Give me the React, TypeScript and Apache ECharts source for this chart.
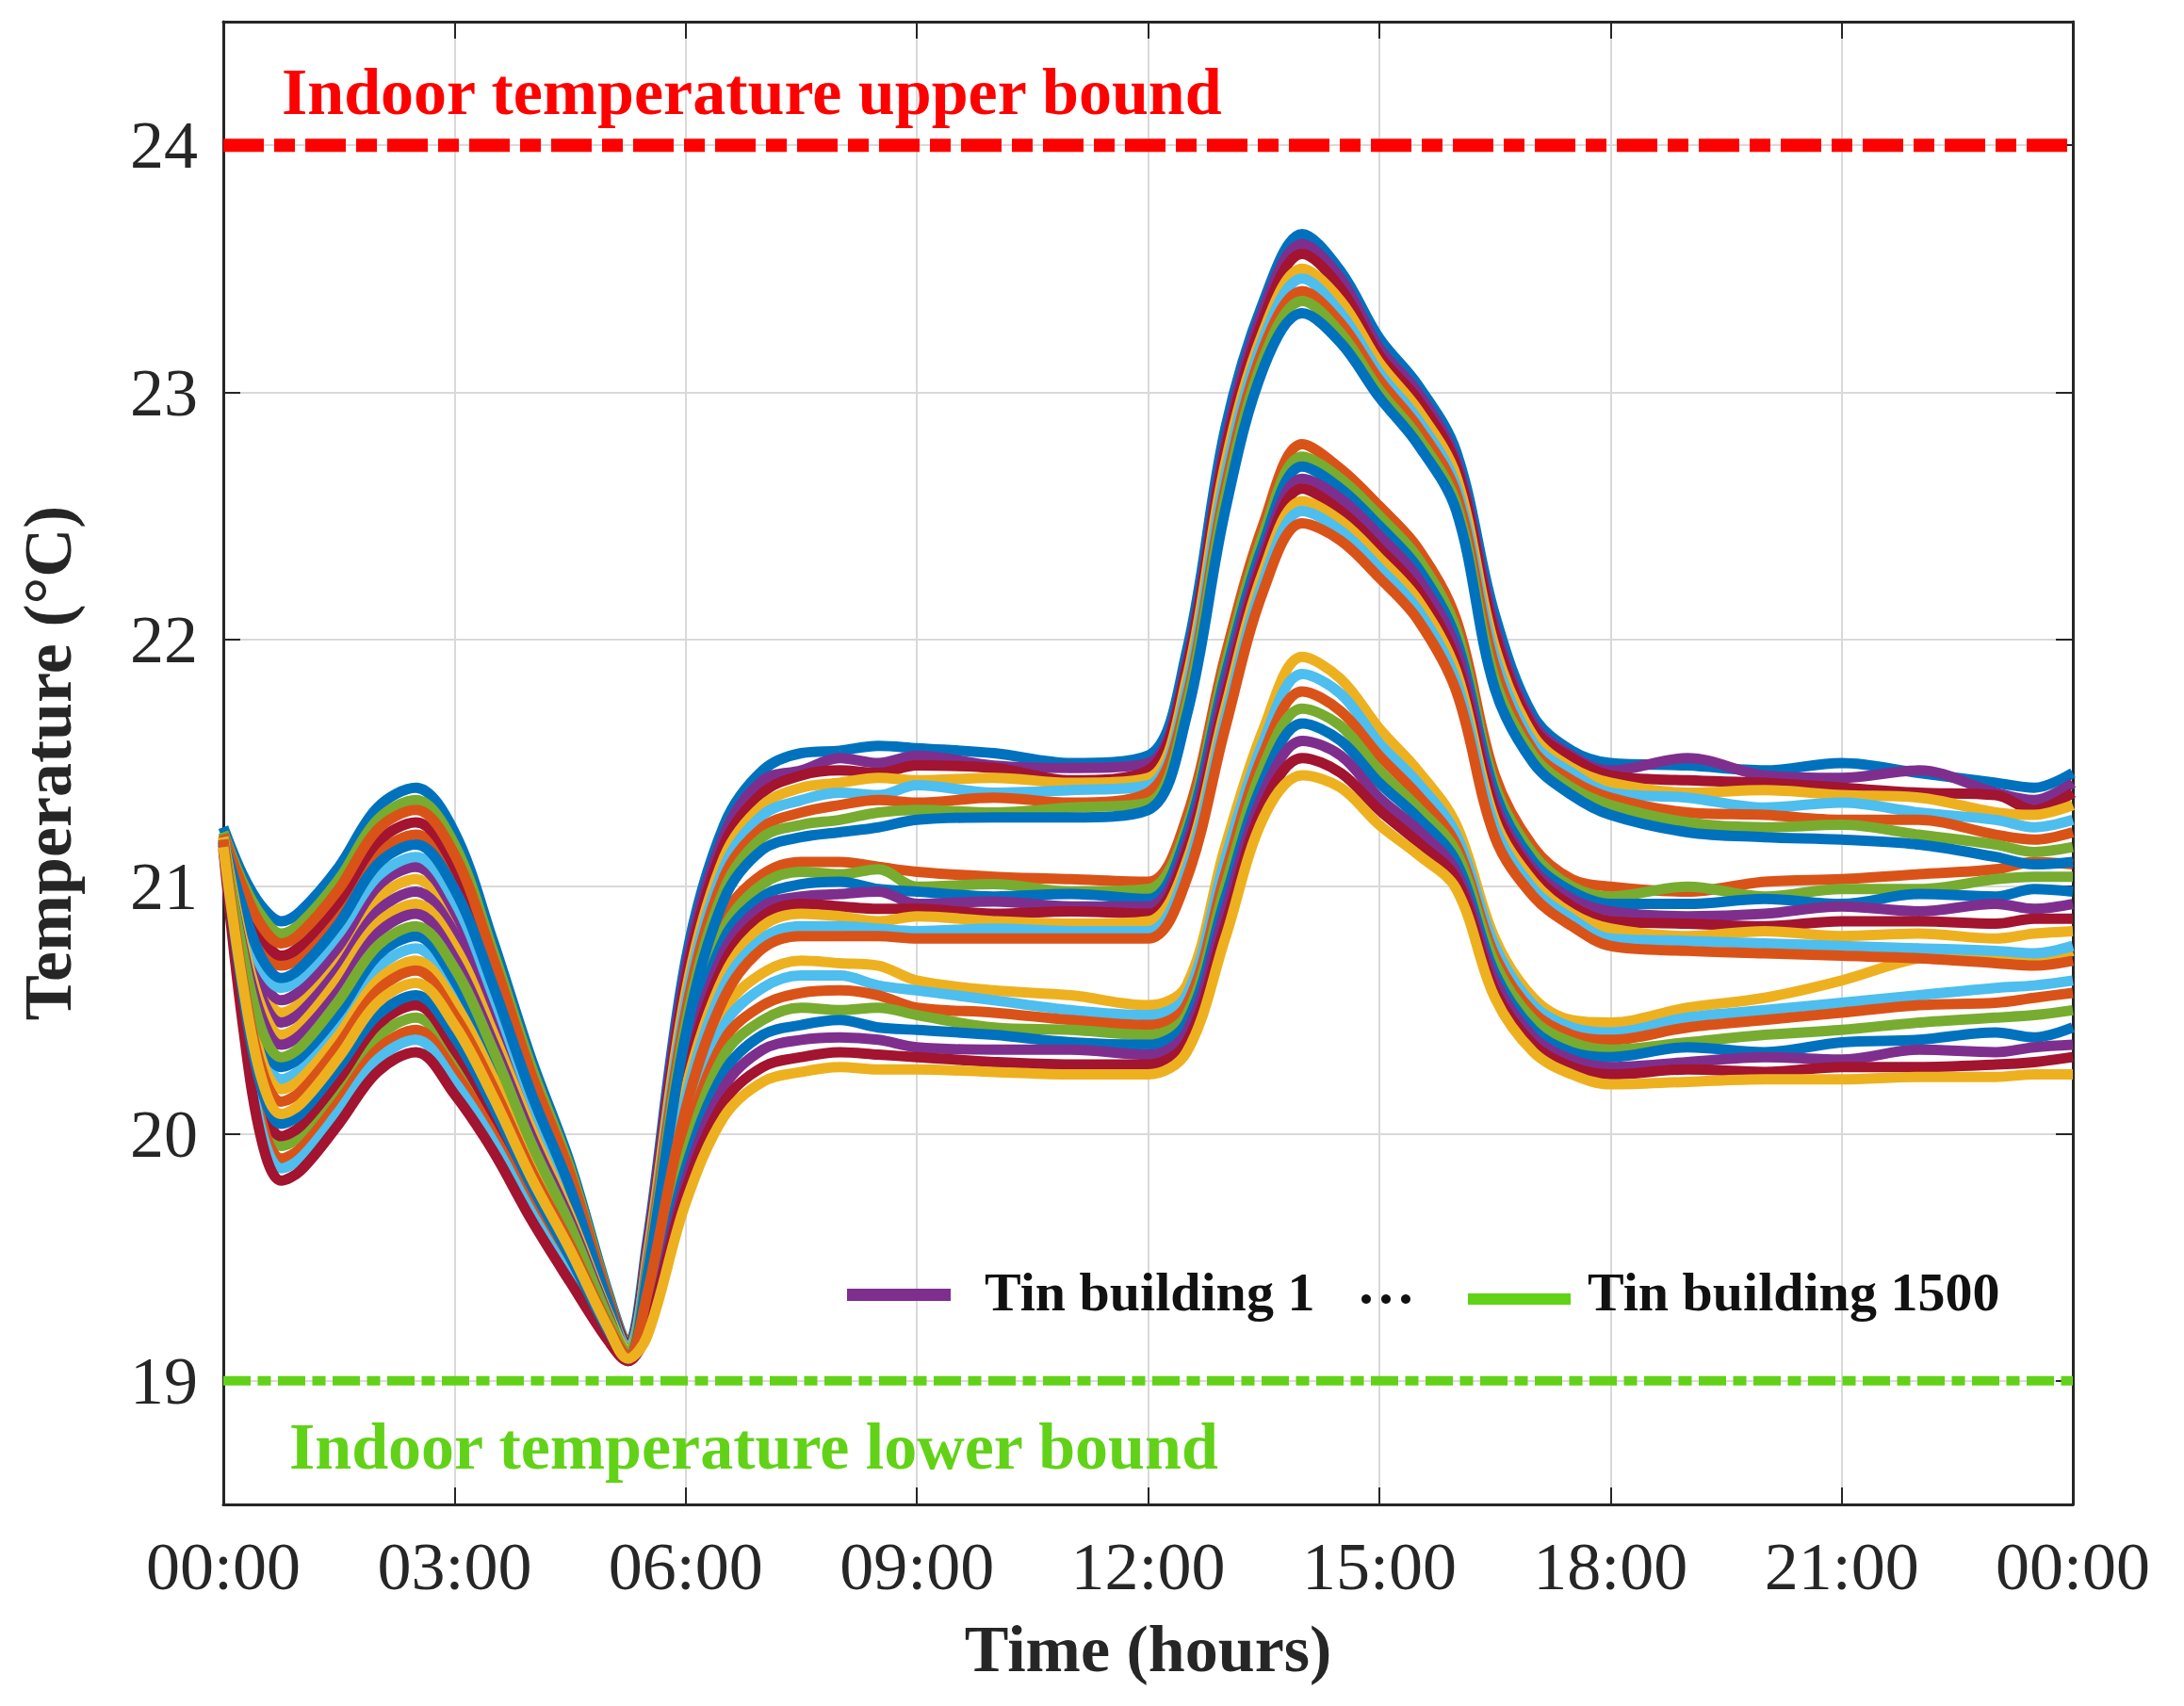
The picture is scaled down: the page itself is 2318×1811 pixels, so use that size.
import React, { useEffect, useRef } from 'react';
import * as echarts from 'echarts';

const HOURS = [0, 0.25, 0.5, 0.75, 1, 1.5, 2, 2.5, 3, 3.5, 4, 4.5, 5, 5.25, 5.5, 6, 6.5, 7, 7.5, 8, 8.5, 9, 10, 11, 12, 12.5, 13, 13.5, 14, 14.5, 15, 15.5, 16, 16.5, 17, 17.5, 18, 19, 20, 21, 22, 23, 23.5, 24];

const X_TICKS = [0, 3, 6, 9, 12, 15, 18, 21, 24];
const X_LABELS = ['00:00', '03:00', '06:00', '09:00', '12:00', '15:00', '18:00', '21:00', '00:00'];
const Y_TICKS = [19, 20, 21, 22, 23, 24];
const UPPER_BOUND = 24;
const LOWER_BOUND = 19;

const BAND_HIGH = [
  [21.24, 21.05, 20.92, 20.86, 20.90, 21.08, 21.32, 21.40, 21.22, 20.78, 20.30, 19.88, 19.35, 19.15, 19.56, 20.70, 21.25, 21.47, 21.54, 21.55, 21.57, 21.56, 21.54, 21.50, 21.53, 21.95, 22.85, 23.37, 23.64, 23.49, 23.22, 23.03, 22.76, 22.10, 21.69, 21.55, 21.50, 21.49, 21.47, 21.50, 21.46, 21.42, 21.40, 21.46],
  [21.18, 20.82, 20.55, 20.45, 20.49, 20.67, 20.90, 20.98, 20.81, 20.45, 20.05, 19.69, 19.28, 19.12, 19.54, 20.66, 21.21, 21.43, 21.47, 21.52, 21.50, 21.53, 21.49, 21.48, 21.50, 21.90, 22.79, 23.34, 23.60, 23.46, 23.18, 23.00, 22.72, 22.05, 21.66, 21.53, 21.47, 21.52, 21.45, 21.44, 21.47, 21.38, 21.35, 21.42],
  [21.20, 20.97, 20.80, 20.72, 20.76, 20.94, 21.18, 21.26, 21.08, 20.67, 20.22, 19.82, 19.33, 19.14, 19.52, 20.62, 21.17, 21.38, 21.45, 21.47, 21.46, 21.49, 21.48, 21.43, 21.47, 21.88, 22.76, 23.30, 23.56, 23.42, 23.15, 22.97, 22.70, 22.02, 21.64, 21.52, 21.45, 21.43, 21.42, 21.40, 21.38, 21.37, 21.31, 21.38],
  [21.17, 20.66, 20.30, 20.18, 20.22, 20.40, 20.62, 20.70, 20.53, 20.23, 19.88, 19.57, 19.23, 19.10, 19.50, 20.57, 21.12, 21.33, 21.40, 21.42, 21.44, 21.43, 21.44, 21.42, 21.44, 21.84, 22.71, 23.25, 23.50, 23.37, 23.12, 22.93, 22.66, 21.97, 21.61, 21.48, 21.42, 21.38, 21.39, 21.37, 21.36, 21.30, 21.29, 21.33],
  [21.20, 20.89, 20.67, 20.59, 20.63, 20.81, 21.04, 21.12, 20.94, 20.56, 20.13, 19.75, 19.30, 19.13, 19.48, 20.53, 21.08, 21.29, 21.35, 21.38, 21.37, 21.41, 21.38, 21.39, 21.41, 21.80, 22.66, 23.22, 23.46, 23.32, 23.08, 22.89, 22.62, 21.93, 21.58, 21.46, 21.38, 21.36, 21.32, 21.34, 21.30, 21.27, 21.24, 21.27],
  [21.16, 20.50, 20.05, 19.90, 19.94, 20.13, 20.34, 20.42, 20.25, 20.00, 19.71, 19.44, 19.18, 19.08, 19.46, 20.49, 21.04, 21.24, 21.30, 21.33, 21.35, 21.34, 21.36, 21.34, 21.38, 21.76, 22.61, 23.18, 23.41, 23.28, 23.05, 22.86, 22.59, 21.89, 21.55, 21.43, 21.36, 21.30, 21.29, 21.27, 21.27, 21.21, 21.19, 21.22],
  [21.19, 20.74, 20.42, 20.31, 20.35, 20.54, 20.76, 20.84, 20.67, 20.34, 19.96, 19.63, 19.25, 19.11, 19.44, 20.44, 20.99, 21.20, 21.25, 21.27, 21.30, 21.31, 21.30, 21.32, 21.34, 21.73, 22.57, 23.14, 23.37, 23.24, 23.01, 22.82, 22.55, 21.84, 21.53, 21.40, 21.33, 21.26, 21.24, 21.25, 21.21, 21.17, 21.14, 21.16],
  [21.18, 20.58, 20.18, 20.04, 20.08, 20.27, 20.48, 20.56, 20.39, 20.11, 19.79, 19.50, 19.20, 19.09, 19.42, 20.40, 20.95, 21.15, 21.20, 21.22, 21.24, 21.27, 21.28, 21.28, 21.31, 21.69, 22.52, 23.10, 23.32, 23.20, 22.98, 22.79, 22.52, 21.80, 21.50, 21.37, 21.29, 21.22, 21.20, 21.19, 21.17, 21.12, 21.09, 21.10],
];

const BAND_MID = [
  [21.20, 20.95, 20.75, 20.68, 20.72, 20.90, 21.13, 21.21, 21.04, 20.63, 20.19, 19.80, 19.32, 19.14, 19.45, 20.38, 20.88, 21.05, 21.10, 21.10, 21.08, 21.06, 21.04, 21.03, 21.02, 21.28, 21.93, 22.47, 22.79, 22.69, 22.54, 22.37, 22.08, 21.45, 21.16, 21.03, 21.00, 20.98, 21.02, 21.03, 21.05, 21.07, 21.10, 21.09],
  [21.22, 21.02, 20.88, 20.81, 20.85, 21.03, 21.27, 21.35, 21.17, 20.74, 20.27, 19.86, 19.34, 19.15, 19.44, 20.34, 20.83, 21.01, 21.06, 21.05, 21.07, 21.00, 21.01, 20.98, 20.99, 21.24, 21.89, 22.43, 22.74, 22.65, 22.50, 22.33, 22.04, 21.41, 21.13, 21.00, 20.96, 21.00, 20.96, 20.99, 20.99, 21.03, 21.04, 21.04],
  [21.18, 20.71, 20.38, 20.27, 20.31, 20.49, 20.72, 20.80, 20.62, 20.30, 19.93, 19.61, 19.24, 19.11, 19.42, 20.30, 20.79, 20.96, 21.01, 21.02, 20.99, 20.98, 20.96, 20.97, 20.95, 21.21, 21.85, 22.39, 22.70, 22.61, 22.46, 22.29, 22.00, 21.38, 21.10, 20.98, 20.93, 20.93, 20.95, 20.93, 20.97, 20.96, 20.99, 20.98],
  [21.18, 20.87, 20.63, 20.54, 20.58, 20.76, 21.00, 21.08, 20.90, 20.52, 20.10, 19.73, 19.29, 19.13, 19.41, 20.26, 20.74, 20.92, 20.96, 20.97, 20.98, 20.93, 20.94, 20.92, 20.92, 21.17, 21.81, 22.35, 22.65, 22.57, 22.42, 22.25, 21.96, 21.34, 21.07, 20.95, 20.90, 20.88, 20.89, 20.92, 20.90, 20.93, 20.91, 20.93],
  [21.17, 20.55, 20.14, 19.99, 20.03, 20.22, 20.44, 20.52, 20.34, 20.08, 19.76, 19.48, 19.19, 19.09, 19.39, 20.22, 20.69, 20.88, 20.93, 20.92, 20.91, 20.91, 20.89, 20.90, 20.89, 21.14, 21.76, 22.32, 22.61, 22.52, 22.37, 22.20, 21.91, 21.31, 21.05, 20.92, 20.86, 20.85, 20.84, 20.86, 20.86, 20.85, 20.87, 20.87],
  [21.20, 20.79, 20.51, 20.40, 20.44, 20.63, 20.85, 20.93, 20.76, 20.41, 20.02, 19.67, 19.27, 19.12, 19.38, 20.18, 20.64, 20.84, 20.89, 20.88, 20.86, 20.88, 20.86, 20.85, 20.86, 21.10, 21.72, 22.28, 22.56, 22.48, 22.33, 22.16, 21.87, 21.27, 21.02, 20.89, 20.83, 20.80, 20.82, 20.80, 20.81, 20.79, 20.81, 20.82],
  [21.18, 20.48, 20.01, 19.86, 19.90, 20.09, 20.30, 20.38, 20.21, 19.97, 19.68, 19.42, 19.17, 19.08, 19.36, 20.14, 20.60, 20.79, 20.84, 20.84, 20.83, 20.82, 20.83, 20.82, 20.82, 21.07, 21.68, 22.24, 22.52, 22.44, 22.29, 22.12, 21.83, 21.24, 20.99, 20.87, 20.79, 20.78, 20.77, 20.76, 20.75, 20.74, 20.73, 20.76],
  [21.19, 20.63, 20.26, 20.13, 20.17, 20.36, 20.58, 20.66, 20.48, 20.19, 19.85, 19.55, 19.22, 19.10, 19.35, 20.10, 20.55, 20.75, 20.80, 20.80, 20.80, 20.79, 20.79, 20.79, 20.79, 21.03, 21.64, 22.20, 22.47, 22.40, 22.25, 22.08, 21.79, 21.20, 20.96, 20.84, 20.76, 20.74, 20.73, 20.72, 20.71, 20.69, 20.68, 20.70],
];

const BAND_LOW = [
  [21.19, 20.84, 20.59, 20.49, 20.53, 20.72, 20.95, 21.03, 20.85, 20.48, 20.07, 19.71, 19.28, 19.12, 19.30, 20.05, 20.50, 20.65, 20.70, 20.69, 20.68, 20.62, 20.58, 20.56, 20.52, 20.60, 21.16, 21.64, 21.93, 21.84, 21.64, 21.47, 21.25, 20.79, 20.55, 20.46, 20.45, 20.51, 20.55, 20.62, 20.71, 20.73, 20.71, 20.74],
  [21.20, 20.68, 20.34, 20.22, 20.26, 20.45, 20.67, 20.75, 20.57, 20.26, 19.90, 19.59, 19.23, 19.10, 19.28, 20.00, 20.44, 20.59, 20.64, 20.64, 20.60, 20.58, 20.54, 20.50, 20.48, 20.56, 21.11, 21.59, 21.86, 21.78, 21.58, 21.42, 21.21, 20.76, 20.52, 20.43, 20.41, 20.47, 20.50, 20.53, 20.56, 20.59, 20.60, 20.62],
  [21.21, 21.00, 20.84, 20.77, 20.81, 20.99, 21.23, 21.31, 21.13, 20.71, 20.24, 19.84, 19.33, 19.14, 19.27, 19.96, 20.38, 20.52, 20.57, 20.58, 20.56, 20.51, 20.49, 20.46, 20.44, 20.52, 21.05, 21.54, 21.79, 21.71, 21.53, 21.37, 21.17, 20.72, 20.49, 20.40, 20.38, 20.43, 20.46, 20.49, 20.52, 20.53, 20.55, 20.57],
  [21.19, 20.53, 20.09, 19.95, 19.99, 20.18, 20.39, 20.47, 20.30, 20.04, 19.73, 19.46, 19.18, 19.09, 19.25, 19.91, 20.32, 20.46, 20.51, 20.50, 20.51, 20.48, 20.43, 20.42, 20.40, 20.48, 21.00, 21.49, 21.72, 21.65, 21.47, 21.32, 21.14, 20.69, 20.46, 20.37, 20.34, 20.37, 20.40, 20.42, 20.45, 20.47, 20.48, 20.50],
  [21.19, 20.92, 20.71, 20.63, 20.67, 20.85, 21.09, 21.17, 20.99, 20.60, 20.16, 19.78, 19.31, 19.13, 19.23, 19.86, 20.25, 20.40, 20.44, 20.46, 20.43, 20.42, 20.40, 20.37, 20.36, 20.45, 20.95, 21.43, 21.66, 21.59, 21.42, 21.28, 21.10, 20.65, 20.42, 20.33, 20.31, 20.35, 20.33, 20.37, 20.38, 20.41, 20.39, 20.43],
  [21.17, 20.76, 20.47, 20.36, 20.40, 20.58, 20.81, 20.89, 20.71, 20.37, 19.99, 19.65, 19.26, 19.11, 19.21, 19.81, 20.19, 20.34, 20.38, 20.39, 20.38, 20.35, 20.34, 20.34, 20.32, 20.41, 20.90, 21.38, 21.59, 21.53, 21.36, 21.23, 21.06, 20.62, 20.39, 20.30, 20.27, 20.29, 20.31, 20.30, 20.34, 20.33, 20.35, 20.36],
  [21.15, 20.45, 19.97, 19.81, 19.85, 20.04, 20.25, 20.33, 20.16, 19.93, 19.65, 19.40, 19.16, 19.08, 19.20, 19.77, 20.13, 20.27, 20.31, 20.33, 20.32, 20.31, 20.29, 20.28, 20.28, 20.37, 20.84, 21.33, 21.52, 21.46, 21.31, 21.18, 21.03, 20.58, 20.36, 20.27, 20.24, 20.26, 20.25, 20.27, 20.27, 20.28, 20.29, 20.31],
  [21.16, 20.61, 20.22, 20.08, 20.12, 20.31, 20.53, 20.61, 20.44, 20.15, 19.82, 19.53, 19.21, 19.09, 19.18, 19.72, 20.07, 20.21, 20.25, 20.27, 20.26, 20.26, 20.25, 20.24, 20.24, 20.33, 20.79, 21.28, 21.45, 21.40, 21.25, 21.13, 20.99, 20.55, 20.33, 20.24, 20.20, 20.21, 20.22, 20.22, 20.23, 20.23, 20.24, 20.24],
];

const PALETTE = ['#0072BD', '#D95319', '#EDB120', '#7E2F8E', '#77AC30', '#4DBEEE', '#A2142F'];
const RED = '#ff0000';
const GREEN = '#62d218';
const PURPLE = '#7E2F8E';
const INK = '#262626';
const FONT = '"Liberation Serif", "DejaVu Serif", serif';

export default function App() {
  const ref = useRef<HTMLDivElement>(null);

  useEffect(() => {
    document.body.style.margin = '0';
    const chart = echarts.init(ref.current as HTMLDivElement, undefined, { renderer: 'svg' });

    const allLines: number[][] = [];
    for (let i = 0; i < 8; i++) {
      allLines.push(BAND_HIGH[i]);
      allLines.push(BAND_MID[i]);
      allLines.push(BAND_LOW[i]);
    }

    const buildingSeries = allLines.map((line, idx) => ({
      type: 'line',
      name: 'Tin building ' + (idx + 1),
      data: HOURS.map((h, i) => [h, line[i]]),
      smooth: 0.35,
      symbol: 'none',
      lineStyle: { color: PALETTE[idx % PALETTE.length], width: 11 },
      z: 3,
      silent: true,
    }));

    const boundSeries = [
      {
        type: 'line',
        name: 'upper bound',
        data: [[0, UPPER_BOUND], [24, UPPER_BOUND]],
        symbol: 'none',
        lineStyle: { color: RED, width: 14, type: [43, 11, 22, 11] },
        z: 5,
        silent: true,
      },
      {
        type: 'line',
        name: 'lower bound',
        data: [[0, LOWER_BOUND], [24, LOWER_BOUND]],
        symbol: 'none',
        lineStyle: { color: GREEN, width: 10, type: [29, 7.5, 14, 7.5] },
        z: 5,
        silent: true,
      },
    ];

    const axisLine = { show: true, onZero: false, lineStyle: { color: INK, width: 3 } };
    const tick = { show: true, inside: true, length: 18, lineStyle: { color: INK, width: 2 } };

    const option: any = {
      animation: false,
      backgroundColor: '#ffffff',
      grid: { left: 237, right: 118, top: 23, bottom: 214, containLabel: false },
      xAxis: [
        {
          type: 'value',
          min: 0,
          max: 24,
          interval: 3,
          position: 'bottom',
          axisLine,
          axisTick: tick,
          axisLabel: {
            formatter: (v: number) => X_LABELS[X_TICKS.indexOf(v)] ?? '',
            fontSize: 72,
            fontFamily: FONT,
            color: INK,
            margin: 30,
          },
          splitLine: { show: true, lineStyle: { color: '#d9d9d9', width: 2 } },
          name: 'Time (hours)',
          nameLocation: 'middle',
          nameGap: 118,
          nameTextStyle: { fontSize: 70, fontWeight: 'bold', fontFamily: FONT, color: INK },
        },
        {
          type: 'value',
          min: 0,
          max: 24,
          interval: 3,
          position: 'top',
          axisLine,
          axisTick: tick,
          axisLabel: { show: false },
          splitLine: { show: false },
        },
      ],
      yAxis: [
        {
          type: 'value',
          min: 18.5,
          max: 24.5,
          splitNumber: 6,
          position: 'left',
          axisLine,
          axisTick: { ...tick, customValues: Y_TICKS },
          axisLabel: {
            customValues: Y_TICKS,
            fontSize: 72,
            fontFamily: FONT,
            color: INK,
            margin: 27,
          },
          splitLine: { show: true, lineStyle: { color: '#d9d9d9', width: 2 } },
          name: 'Temperature (°C)',
          nameLocation: 'middle',
          nameGap: 150,
          nameRotate: 90,
          nameTextStyle: { fontSize: 72, fontWeight: 'bold', fontFamily: FONT, color: INK },
        },
        {
          type: 'value',
          min: 18.5,
          max: 24.5,
          splitNumber: 6,
          position: 'right',
          axisLine,
          axisTick: { ...tick, customValues: Y_TICKS },
          axisLabel: { show: false },
          splitLine: { show: false },
        },
      ],
      series: [...buildingSeries, ...boundSeries],
      graphic: [
        {
          type: 'text',
          left: 299,
          top: 62,
          z: 10,
          style: { text: 'Indoor temperature upper bound', fill: RED, font: `bold 70px ${FONT}` },
        },
        {
          type: 'text',
          left: 307,
          top: 1500,
          z: 10,
          style: { text: 'Indoor temperature lower bound', fill: GREEN, font: `bold 70px ${FONT}` },
        },
        { type: 'rect', shape: { x: 899, y: 1368, width: 110, height: 13 }, style: { fill: PURPLE }, z: 10 },
        {
          type: 'text',
          left: 1045,
          top: 1342,
          z: 10,
          style: { text: 'Tin building 1', fill: '#111111', font: `bold 58px ${FONT}` },
        },
        { type: 'circle', shape: { cx: 1450, cy: 1379, r: 5 }, style: { fill: '#111111' }, z: 10 },
        { type: 'circle', shape: { cx: 1471, cy: 1379, r: 5 }, style: { fill: '#111111' }, z: 10 },
        { type: 'circle', shape: { cx: 1492, cy: 1379, r: 5 }, style: { fill: '#111111' }, z: 10 },
        { type: 'rect', shape: { x: 1558, y: 1373, width: 109, height: 12 }, style: { fill: GREEN }, z: 10 },
        {
          type: 'text',
          left: 1685,
          top: 1342,
          z: 10,
          style: { text: 'Tin building 1500', fill: '#111111', font: `bold 58px ${FONT}` },
        },
      ],
    };

    chart.setOption(option);
    return () => chart.dispose();
  }, []);

  return <div ref={ref} style={{ width: 2318, height: 1811 }} />;
}
